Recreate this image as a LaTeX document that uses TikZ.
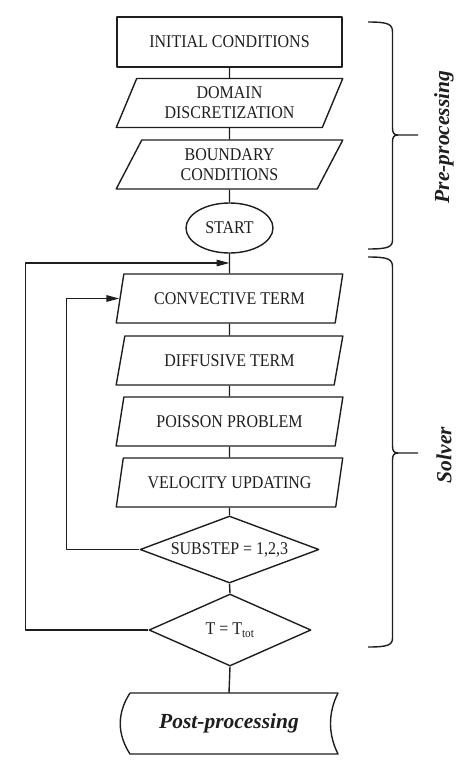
\documentclass[tikz,border=0pt]{standalone}
\usepackage{fontspec}
\setmainfont{Liberation Serif}
\usetikzlibrary{shapes.geometric,arrows.meta}
\definecolor{ink}{HTML}{1E1E1E}
\newcommand\vs[1]{\scalebox{1}[1.12]{#1}}
\begin{document}
\begin{tikzpicture}[x=1pt,y=-1pt,
  line/.style={draw=ink, line width=1.4pt, line join=round},
  arr/.style={-{Triangle[length=13pt,width=6.5pt]}},
  box/.style={line, text=ink, inner sep=0pt, font=\fontsize{16}{20}\selectfont, align=center},
  rectbox/.style={box, rectangle, minimum width=225pt, minimum height=50pt},
  para/.style={box, trapezium, trapezium left angle=66, trapezium right angle=114,
    trapezium stretches=true, minimum width=227pt, minimum height=49pt},
  startbox/.style={box, ellipse, minimum width=87pt, minimum height=50pt},
  dia/.style={box, diamond},
  big/.style={text=ink, font=\fontsize{21.5}{24}\selectfont\bfseries\itshape, inner sep=0pt}
]
\useasboundingbox (0,0) rectangle (474,779);

\node[rectbox] (init) at (229.5,42) {\vs{INITIAL CONDITIONS}};
\node[para] (dom) at (229.5,103) {\vs{DOMAIN}\\\vs{DISCRETIZATION}};
\node[para] (bc) at (229.5,164.5) {\vs{BOUNDARY}\\\vs{CONDITIONS}};
\node[startbox] (start) at (229.5,228) {\vs{START}};
\node[para] (conv) at (229.5,298.5) {\vs{CONVECTIVE TERM}};
\node[para] (diff) at (229.5,360.5) {\vs{DIFFUSIVE TERM}};
\node[para] (pois) at (229.5,421.5) {\vs{POISSON PROBLEM}};
\node[para] (vel) at (229.5,482.5) {\vs{VELOCITY UPDATING}};
\node[dia, aspect=2.67, minimum width=179pt, minimum height=67pt] (sub) at (229.5,549.5) {\vs{SUBSTEP = 1,2,3}};
\node[dia, aspect=2.25, minimum width=162pt, minimum height=72pt] (tt) at (230,630) {\vs{T = T\textsubscript{tot}}};

\draw[line] (130,693) -- (338,693) .. controls (328,713) and (328,734) .. (338,754)
  -- (130,754) .. controls (117,734) and (117,713) .. (130,693);
\node[big, minimum width=218pt, minimum height=61pt] (post) at (229,723.5) {Post-processing};

\coordinate (j) at (229.5,263);

\draw[line] (init.south) -- (dom.north);
\draw[line] (dom.south) -- (bc.north);
\draw[line] (bc.south) -- (start.north);
\draw[line] (start.south) -- (conv.north);
\draw[line] (conv.south) -- (diff.north);
\draw[line] (diff.south) -- (pois.north);
\draw[line] (pois.south) -- (vel.north);
\draw[line] (vel.south) -- (sub.north);
\draw[line] (sub.south) -- (tt.north);
\draw[line] (tt.south) -- (post.north);

\draw[line, arr] (sub.west) -- ++(-73,0) |- (conv.west);
\draw[line, arr] (tt.west) -- ++(-123,0) |- (j);

% braces
\draw[line] (368,22) .. controls (388,22) and (392.5,24) .. (392.5,32) -- (392.5,128)
  .. controls (392.5,133) and (394,135) .. (398,135) -- (418,135);
\draw[line] (398,135) .. controls (394,135) and (392.5,137) .. (392.5,142) -- (392.5,240)
  .. controls (392.5,247) and (388,249) .. (368,249);
\draw[line] (368,257) .. controls (388,257) and (392.5,259) .. (392.5,267) -- (392.5,446)
  .. controls (392.5,451) and (394,453) .. (398,453) -- (418,453);
\draw[line] (398,453) .. controls (394,453) and (392.5,455) .. (392.5,460) -- (392.5,638)
  .. controls (392.5,645) and (388,647) .. (368,647);

\node[big, rotate=90] (pre) at (444,137) {Pre-processing};
\node[big, rotate=90] (solv) at (444,455) {Solver};
\end{tikzpicture}
\end{document}
